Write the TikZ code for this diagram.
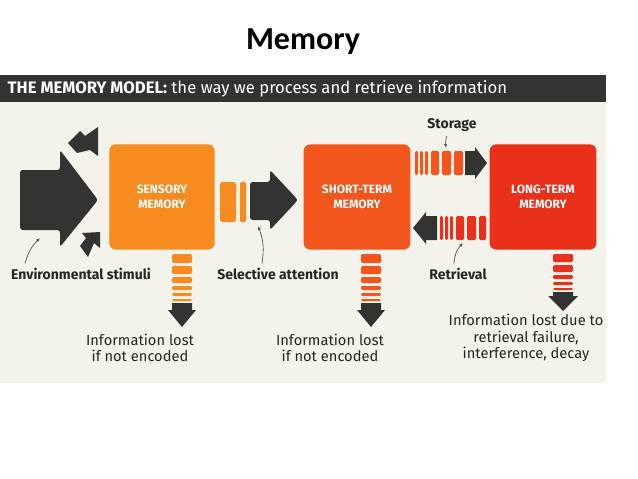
\documentclass[tikz,border=0pt]{standalone}
\usepackage{fontspec}
\usetikzlibrary{arrows.meta}
\setmainfont{Carlito}
\newfontfamily\myinf{Fira Sans}
\begin{document}
\begin{tikzpicture}[x=0.75pt,y=-0.75pt,
  dk/.style={fill=black!80,draw=none},
  box/.style={rounded corners=5pt,draw=none},
  bt/.style={text=white,font=\myinf\bfseries\fontsize{9}{11}\selectfont,align=center},
  lb/.style={font=\myinf\bfseries\fontsize{10.5}{12}\selectfont,text=black!85},
  nt/.style={font=\myinf\fontsize{11}{12.5}\selectfont,align=center,text=black!85},
  ptr/.style={draw=black!70,line width=0.5pt,-{Latex[length=3pt]}}]
\useasboundingbox (0,0) rectangle (638,478);
\definecolor{sens}{HTML}{F68B1F}
\definecolor{stm}{HTML}{F2561D}
\definecolor{ltm}{HTML}{E8301A}
\definecolor{bg}{HTML}{F3F2EB}
\node (title) at (303,42) {\fontsize{24}{28}\selectfont\bfseries Memory};
\fill[bg] (0,102) rectangle (606,383);
\fill[black!80] (0,75) rectangle (606,102);
\node[anchor=west,text=white,font=\myinf\fontsize{12.5}{14}\selectfont] (hdr) at (3,89) {\textbf{THE MEMORY MODEL:} the way we process and retrieve information};
% boxes
\node[box,fill=sens,minimum width=79pt,minimum height=79pt,bt] (s) at (162,197) {SENSORY\\MEMORY};
\node[box,fill=stm,minimum width=80pt,minimum height=79pt,bt] (m) at (357,197) {SHORT-TERM\\MEMORY};
\node[box,fill=ltm,minimum width=80pt,minimum height=79pt,bt] (l) at (543,197) {LONG-TERM\\MEMORY};
% big input arrow
\fill[dk,rounded corners=2pt] (20,170) -- (60,170) -- (60,150) -- (98,200) -- (60,247) -- (60,230) -- (20,230) -- cycle;
\fill[dk] (68,143) -- (80,131) -- (85,136) -- (98,127) -- (98,156) -- (90,150) -- (77,153) -- cycle;
\fill[dk] (80,246) -- (86,238) -- (82,233) -- (100,232) -- (100,248) -- (94,243) -- (88,257) -- cycle;
% sensory -> STM
\fill[sens,rounded corners=2pt] (220,182) rectangle (236,222);
\fill[sens,rounded corners=1pt] (240,182) rectangle (246,222);
\fill[dk,rounded corners=2pt] (250,182) -- (270,182) -- (270,170) -- (298,200) -- (270,230) -- (270,220) -- (250,220) -- cycle;
% storage
\foreach \x/\w in {415/3,420/3,425/3,431/8,442/9,454/9} \fill[stm,rounded corners=1pt] (\x,151) rectangle ++(\w,24);
\fill[dk] (465,151) -- (475,151) -- (475,147) -- (487,163) -- (475,179) -- (475,175) -- (465,175) -- cycle;
% retrieval
\foreach \x/\w in {440/3,445/3,450/3,456/8,467/9,479/7} \fill[ltm,rounded corners=1pt] (\x,216) rectangle ++(\w,24);
\fill[dk] (437,216) -- (426,216) -- (426,212) -- (413,228) -- (426,244) -- (426,240) -- (437,240) -- cycle;
% down columns
\foreach \cx/\c in {182/sens,371/stm} {
  \foreach \y/\h in {254/9,266/8,277/6,286/4,293/3,299/2} \fill[\c,rounded corners=1pt] (\cx-10,\y) rectangle ++(20,\h);
  \fill[dk] (\cx-10,303) -- (\cx+10,303) -- (\cx+10,310) -- (\cx+14,310) -- (\cx,327) -- (\cx-14,310) -- (\cx-10,310) -- cycle;
}
\foreach \y/\h in {254/8,265/7,275/4,282/3,288/2} \fill[ltm,rounded corners=1pt] (553,\y) rectangle ++(20,\h);
\fill[dk] (553,292) -- (573,292) -- (573,296) -- (578,296) -- (563,311) -- (548,296) -- (553,296) -- cycle;
% labels
\node[lb] (es) at (81,274) {Environmental stimuli};
\node[lb] (sa) at (278,274) {Selective attention};
\node[lb] (st) at (452,125) {Storage};
\node[lb] (re) at (458,274) {Retrieval};
\coordinate (e1) at (40,238);
\coordinate (e2) at (258,226);
\coordinate (e3) at (446,148);
\coordinate (e4) at (463,243);
\draw[ptr] ([xshift=-42pt]es.north) to[bend left=15] (e1);
\draw[ptr] ([xshift=-12pt]sa.north) to[bend right=15] (e2);
\draw[ptr] ([xshift=-4pt]st.south) to[bend right=10] (e3);
\draw[ptr] ([xshift=-3pt]re.north) to[bend left=20] (e4);
\node[nt] (n1) at (140,348) {Information lost\\if not encoded};
\node[nt] (n2) at (330,348) {Information lost\\if not encoded};
\node[nt] (n3) at (526,338) {Information lost due to\\retrieval failure,\\interference, decay};
\end{tikzpicture}
\end{document}
